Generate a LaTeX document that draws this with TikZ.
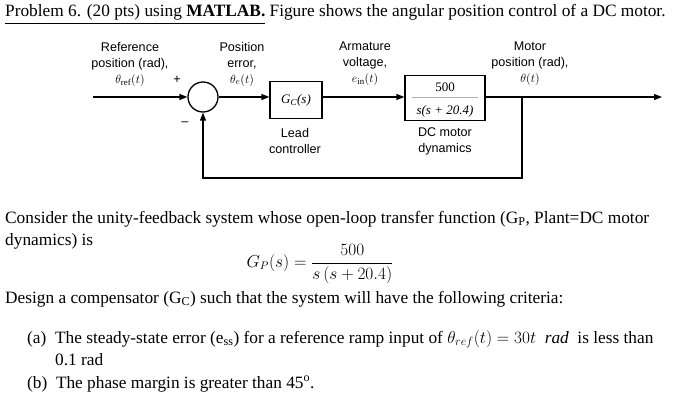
\documentclass[tikz,border=0pt]{standalone}
\usepackage{fontspec}
\setmainfont{Liberation Serif}
\newfontfamily\diagfont{Liberation Sans}
\usepackage{amsmath}
\usetikzlibrary{positioning, arrows.meta, calc}
\begin{document}
\begin{tikzpicture}[x=1pt, y=-1pt,
    txt/.style={anchor=base west, inner sep=0pt, font=\fontsize{17.3}{20}\selectfont},
    lbl/.style={align=center, inner sep=0pt, font=\diagfont\fontsize{12.6}{16}\selectfont},
    block/.style={draw, line width=1.3pt, minimum width=52pt, minimum height=37pt},
    sig/.style={line width=1.3pt, -{Triangle[length=8pt,width=6pt]}}]
  \useasboundingbox (0,0) rectangle (694,401);
  % heading
  \node[txt] (title) at (5,17) {\underline{Problem 6. (20 pts) using \textbf{MATLAB.}} Figure shows the angular position control of a DC motor.};
  % block diagram
  \node[draw, circle, line width=1.3pt, minimum size=30pt, inner sep=0pt] (sum) at (203,97) {};
  \node[block] (Gc) at (296,100) {\itshape\fontsize{13}{15}\selectfont G\textsubscript{C}(s)};
  \node[block, minimum width=80pt, minimum height=45pt] (P) at (445,98) {};
  \node[inner sep=1pt, font=\fontsize{13}{15}\selectfont] (num) at (445,87) {500};
  \node[inner sep=1pt, font=\itshape\fontsize{13}{15}\selectfont] (den) at (445,111) {s(s + 20.4)};
  \draw[gray!60, line width=1pt] ($(P.west)+(8,0)$) -- ($(P.east)+(-8,0)$);
  \coordinate (in) at (93,97);
  \coordinate (out) at (662,97);
  \coordinate (tap) at (522,97);
  \coordinate (fb) at (522,178);
  \draw[sig] (in) -- (sum.west);
  \draw[sig] (sum.east) -- (Gc.west |- sum.east);
  \draw[sig] (Gc.east |- sum.east) -- (P.west |- sum.east);
  \draw[sig] (P.east |- sum.east) -- (out);
  \draw[sig] (tap) -- (fb) -| (sum.south);
  \node[lbl] (ref) at (130,64) {Reference\\position (rad),\\$\theta_{\mathrm{ref}}(t)$};
  \node[lbl] (err) at (242,64) {Position\\error,\\$\theta_e(t)$};
  \node[lbl] (volt) at (365,64) {Armature\\voltage,\\$e_{\mathrm{in}}(t)$};
  \node[lbl] (mot) at (530,64) {Motor\\position (rad),\\$\theta(t)$};
  \node[lbl] (lead) at (295,141) {Lead\\controller};
  \node[lbl] (dyn) at (445,141) {DC motor\\dynamics};
  \node[lbl] (plus) at (177,80) {+};
  \node[lbl] (minus) at (185,124) {–};
  % problem text
  \node[txt] (t1) at (5,223) {Consider the unity-feedback system whose open-loop transfer function (G\textsubscript{P}, Plant=DC motor};
  \node[txt] (t2) at (5,245) {dynamics) is};
  \node[inner sep=0pt, font=\fontsize{16}{19}\selectfont] (eq) at (320,264) {$G_P(s) = \dfrac{500}{s\,(s+20.4)}$};
  \node[txt] (t3) at (5,303) {Design a compensator (G\textsubscript{C}) such that the system will have the following criteria:};
  \node[txt] (ta) at (27,343) {(a)\ \ The steady-state error (e\textsubscript{ss}) for a reference ramp input of $\theta_{ref}(t)=30t\ \ \mathit{rad}$\ \ is less than};
  \node[txt] (ta2) at (55,365) {0.1 rad};
  \node[txt] (tb) at (27,388) {(b)\ \ The phase margin is greater than 45\textsuperscript{o}.};
\end{tikzpicture}
\end{document}
